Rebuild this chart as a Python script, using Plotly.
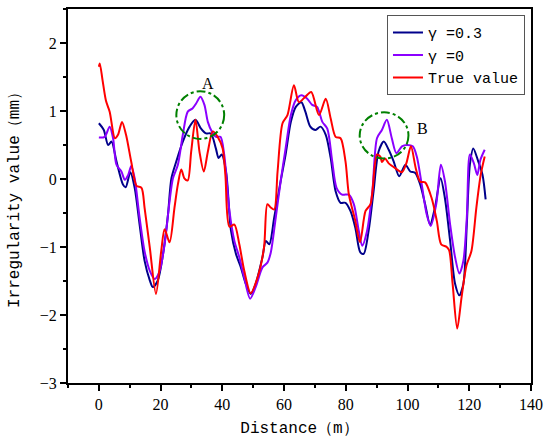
import plotly.graph_objects as go

# distance (m) and irregularity (mm)
true_x = [0, 0.3, 1.2, 2.3, 3.5, 5.2, 6.2, 7.5, 8.8, 10.5, 12.2, 13.8, 14.8, 16.5,
          18.5, 20.2, 21.3, 22.9, 24.5, 25.6, 26.7, 27.7, 28.8, 29.9, 31.3, 32.6,
          34.0, 35.3, 36.9, 38.5, 40.1, 41.0, 42.3, 43.9, 45.5, 47.1, 49.2, 51.4,
          53.5, 54.6, 55.7, 56.8, 57.9, 59.5, 61.1, 63.2, 64.8, 66.9, 68.8, 71.3,
          73.5, 75.1, 76.7, 78.3, 79.9, 81.0, 83.0, 84.6, 86.4, 88.0, 90.1, 91.2,
          91.7, 92.7, 93.9, 96.0, 98.2, 99.6, 101.1, 102.7, 104.1, 105.7, 107.8,
          109.5, 110.9, 112.7, 113.5, 114.6, 116.1, 117.5, 119.1, 120.7, 122.3,
          123.7, 125.0]
true_y = [1.65, 1.70, 1.45, 1.15, 0.99, 0.60, 0.65, 0.84, 0.65, 0.25, -0.10, -0.13,
          -0.42, -1.01, -1.69, -1.06, -0.74, -0.93, -0.42, -0.08, 0.14, 0.01, -0.02,
          0.40, 0.87, 0.40, 0.11, 0.40, 0.70, 0.62, 0.45, 0.05, -0.70, -0.67, -0.96,
          -1.35, -1.68, -1.45, -1.01, -0.37, -0.42, -0.45, 0.11, 0.82, 0.94, 1.38,
          1.13, 1.21, 1.28, 0.94, 1.18, 0.89, 0.62, 0.60, 0.26, -0.23, -0.60, -0.93,
          -0.47, -0.37, 0.36, 0.33, 0.25, 0.30, 0.23, 0.16, 0.10, 0.23, 0.48, 0.15,
          -0.04, -0.05, -0.28, -0.62, -0.96, -1.00, -1.05, -1.54, -2.20, -1.74,
          -1.27, -1.06, -0.42, 0.06, 0.33]

g03_x = [0, 1.6, 3.0, 4.1, 5.7, 7.8, 8.7, 10.2, 11.6, 13.2, 14.8, 16.5, 17.5, 19.1,
         20.8, 22.4, 23.5, 25.1, 27.2, 29.4, 31.3, 33.1, 34.7, 36.3, 37.9, 38.8,
         39.8, 41.2, 42.8, 44.4, 46.0, 47.6, 49.2, 50.8, 53.0, 54.1, 55.2, 56.8,
         58.9, 60.5, 62.2, 63.8, 65.6, 66.9, 68.5, 70.2, 71.8, 73.5, 75.1, 76.7,
         78.3, 79.9, 81.5, 83.1, 84.7, 85.8, 87.4, 89.0, 90.6, 92.3, 93.9, 95.5,
         97.3, 99.3, 100.9, 102.5, 104.1, 105.7, 107.3, 108.9, 110.7, 112.1, 113.8,
         115.4, 116.8, 118.1, 119.2, 120.2, 121.3, 122.9, 124.3, 125.3]
g03_y = [0.82, 0.72, 0.50, 0.55, 0.26, -0.08, -0.12, 0.10, -0.13, -0.67, -1.20,
         -1.49, -1.59, -1.49, -1.10, -0.52, 0.01, 0.26, 0.55, 0.77, 0.87, 0.74, 0.67,
         0.67, 0.45, 0.31, 0.36, 0.11, -0.76, -1.10, -1.30, -1.54, -1.69, -1.54,
         -1.15, -0.91, -0.96, -0.57, -0.03, 0.36, 0.84, 1.06, 1.13, 0.99, 0.77, 0.72,
         0.77, 0.65, 0.31, -0.18, -0.35, -0.35, -0.47, -0.72, -1.08, -1.10, -0.76,
         -0.18, 0.40, 0.55, 0.43, 0.26, 0.04, 0.21, 0.11, 0.09, -0.08, -0.37, -0.67,
         -0.42, 0.01, -0.28, -0.91, -1.54, -1.71, -1.54, -0.67, 0.21, 0.45, 0.26,
         0.06, -0.30]

g0_x = [0, 1.9, 3.5, 4.6, 5.7, 7.3, 8.4, 9.5, 10.5, 11.6, 13.2, 14.8, 16.5, 18.1,
        19.7, 21.3, 22.9, 24.0, 25.6, 27.2, 28.8, 30.4, 31.5, 32.9, 34.2, 35.3,
        36.6, 38.0, 39.4, 40.6, 42.3, 43.9, 45.5, 47.1, 49.0, 50.8, 53.0, 54.6,
        55.7, 57.3, 58.9, 60.5, 62.2, 63.8, 65.6, 67.5, 69.1, 70.7, 72.4, 74.0,
        75.6, 77.0, 78.8, 81.0, 82.6, 84.2, 85.3, 86.9, 88.6, 90.1, 91.7, 93.3,
        94.9, 96.4, 98.2, 99.8, 101.7, 103.0, 104.6, 106.2, 107.5, 109.3, 110.8,
        112.1, 113.8, 115.4, 116.8, 118.1, 119.2, 120.2, 121.5, 122.6, 123.6, 125.0]
g0_y = [0.61, 0.62, 0.77, 0.60, 0.21, 0.11, -0.01, 0.06, 0.19, 0.01, -0.57, -1.06,
        -1.35, -1.47, -1.35, -0.96, -0.33, 0.01, 0.21, 0.65, 0.99, 1.04, 1.11, 1.21,
        1.09, 0.84, 0.70, 0.62, 0.62, 0.36, -0.47, -0.91, -1.15, -1.45, -1.76, -1.59,
        -1.30, -1.23, -1.08, -0.57, -0.03, 0.45, 0.94, 1.16, 1.23, 1.18, 1.09, 1.06,
        0.84, 0.74, 0.26, -0.13, -0.23, -0.23, -0.37, -0.76, -0.98, -0.76, -0.18,
        0.60, 0.72, 0.87, 0.60, 0.38, 0.48, 0.50, 0.48, 0.33, -0.08, -0.52, -0.69,
        -0.37, 0.21, -0.03, -0.67, -1.15, -1.39, -1.20, -0.57, 0.36, 0.23, 0.06,
        0.28, 0.43]

# highlighted regions: (label, x0, x1, y0, y1, label x, label y)
regions = [("A", 25.1, 40.6, 0.59, 1.29, 35.5, 1.40),
           ("B", 84.5, 100.3, 0.30, 0.98, 104.8, 0.74)]

serif = "Liberation Serif"
mono = "Liberation Mono"

fig = go.Figure()
fig.add_trace(go.Scatter(x=g03_x, y=g03_y, name="γ =0.3", mode="lines",
                         line=dict(color="#00008B", width=2, shape="spline", smoothing=0.8)))
fig.add_trace(go.Scatter(x=g0_x, y=g0_y, name="γ =0", mode="lines",
                         line=dict(color="#8B00FF", width=2, shape="spline", smoothing=0.8)))
fig.add_trace(go.Scatter(x=true_x, y=true_y, name="True value", mode="lines",
                         line=dict(color="#FF0000", width=2, shape="spline", smoothing=0.8)))

for label, x0, x1, y0, y1, lx, ly in regions:
    fig.add_shape(type="circle", xref="x", yref="y", x0=x0, x1=x1, y0=y0, y1=y1,
                  line=dict(color="#008000", width=2, dash="dashdot"))
    fig.add_annotation(x=lx, y=ly, text=label, showarrow=False,
                       font=dict(family=serif, size=16, color="black"))

axis_common = dict(
    showline=True, linecolor="black", linewidth=2, mirror=True,
    showgrid=False, zeroline=False, ticks="outside", ticklen=6, tickwidth=1.5,
    tickcolor="black", tickfont=dict(family=serif, size=16, color="black"),
)

fig.update_layout(
    width=550, height=441,
    margin=dict(l=68, r=17, t=7, b=58),
    plot_bgcolor="white", paper_bgcolor="white",
    xaxis=dict(range=[-10, 140], tick0=0, dtick=20,
               minor=dict(dtick=10, ticks="outside", ticklen=3, tickcolor="black"),
               title=dict(text="Distance（m）", font=dict(family=mono, size=16, color="black"),
                          standoff=10),
               **axis_common),
    yaxis=dict(range=[-3, 2.5], tick0=0, dtick=1,
               minor=dict(dtick=0.5, ticks="outside", ticklen=3, tickcolor="black"),
               title=dict(text="Irregularity value（mm）",
                          font=dict(family=mono, size=16, color="black"), standoff=16),
               **axis_common),
    legend=dict(x=0.987, y=0.983, xanchor="right", yanchor="top",
                bgcolor="white", bordercolor="#555555", borderwidth=1,
                font=dict(family=mono, size=15, color="black"),
                tracegroupgap=0),
    showlegend=True,
)

# the page body has a default 8px margin; drop it so the chart fills the window
fig.write_html("out.html", config={"displayModeBar": False},
               post_script="document.body.style.margin = '0px';")
